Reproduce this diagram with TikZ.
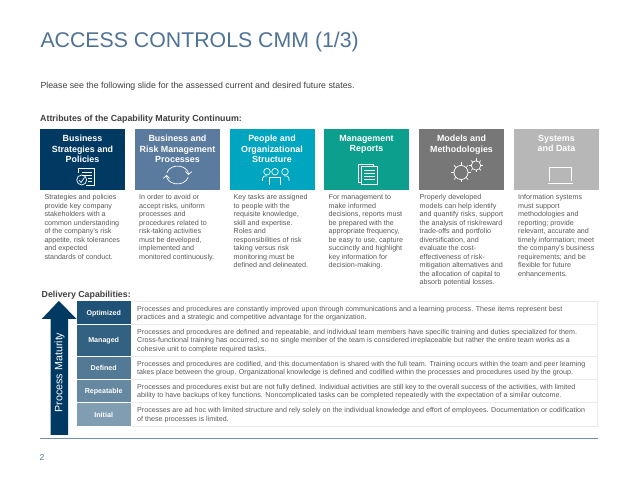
\documentclass[tikz,border=0pt]{standalone}
\usepackage{fontspec}
\usetikzlibrary{arrows.meta}
\usetikzlibrary{calc}
\setmainfont{Liberation Sans}
\definecolor{titleblue}{HTML}{4F7396}
\definecolor{bodygray}{HTML}{595959}
\definecolor{headgray}{HTML}{404040}
\definecolor{navy}{HTML}{003A63}
\definecolor{slate}{HTML}{5B7B9E}
\definecolor{cyanbox}{HTML}{00A5C0}
\definecolor{tealbox}{HTML}{0D9F8D}
\definecolor{darkbox}{HTML}{777777}
\definecolor{lightbox}{HTML}{B7B7B7}
\definecolor{rowline}{HTML}{EBEBEB}
\tikzset{
	headbox/.style={anchor=north,font=\fontsize{8.9}{10.6}\selectfont\bfseries,text=white,align=center,inner sep=0pt,execute at begin node=\rule{0pt}{8pt}},
	bodytext/.style={anchor=north west,font=\fontsize{7.15}{8.5}\selectfont,text=bodygray,align=left,inner sep=0pt},
	rowtext/.style={anchor=west,font=\fontsize{7.13}{8.5}\selectfont,text=bodygray,align=left,inner sep=0pt},
	leveltext/.style={font=\fontsize{7.1}{8.5}\selectfont\bfseries,text=white,inner sep=0pt},
	icon/.style={white,line width=0.7pt}
}
\begin{document}
\begin{tikzpicture}[x=1pt,y=-1pt]
	\useasboundingbox (0,0) rectangle (638,478);
	\fill[white] (0,0) rectangle (638,478);

	% heading
	\draw (40.3,47.6) node[anchor=base west,inner sep=0pt,font=\fontsize{21.3}{24}\selectfont,text=titleblue] (title) {ACCESS CONTROLS CMM (1/3)};
	\draw (40.3,86.3) node[anchor=west,inner sep=0pt,font=\fontsize{8.8}{10}\selectfont,text=headgray] (intro) {Please see the following slide for the assessed current and desired future states.};
	\draw (40,119.3) node[anchor=west,inner sep=0pt,font=\fontsize{8.83}{10}\selectfont\bfseries,text=headgray] (attributes) {Attributes of the Capability Maturity Continuum:};

	% coloured boxes
	\fill[navy] (40,129) rectangle (125,190);
	\fill[slate] (135,129) rectangle (220,190);
	\fill[cyanbox] (229.5,129) rectangle (314.5,190);
	\fill[tealbox] (324,129) rectangle (409,190);
	\fill[darkbox] (419,129) rectangle (504,190);
	\fill[lightbox] (514,129) rectangle (599,190);

	% labels boxes
	\draw (82.5,134.8) node[headbox] (strategies) {Business\\Strategies and\\Policies};
	\draw (177.5,134.8) node[headbox] (processes) {Business and\\Risk Management\\Processes};
	\draw (272,134.8) node[headbox] (people) {People and\\Organizational\\Structure};
	\draw (366.5,134.8) node[headbox] (reports) {Management\\Reports};
	\draw (461.5,134.8) node[headbox] (models) {Models and\\Methodologies};
	\draw (556.5,134.8) node[headbox] (systems) {Systems\\and Data};

	% icon policy sheet
	\draw[icon] (78.5,173) -- (78.5,168) -- (94.5,168) -- (94.5,185) -- (86,185);
	\draw[icon] (82,172) -- (92,172) (82,175) -- (92,175) (88,178) -- (92,178) (88,181) -- (92,181);
	\draw[icon] (81.7,180) circle (5);
	\draw[icon] (79,180) -- (81,182.5) -- (84.5,177.5);
	% icon cycle
	\draw[icon,-{Straight Barb[length=3pt,width=6.5pt]}] (166.9,172.7) arc (195:360:11 and 9);
	\draw[icon,-{Straight Barb[length=3pt,width=6.5pt]}] (188.1,177.3) arc (15:180:11 and 9);
	% icon people
	\draw[icon] (267,171.7) circle (3.3) (275,171.7) circle (3.3) (285,171.7) circle (3.3);
	\draw[icon] (269.3,185) -- (269.3,177) -- (280,177) -- (280,185);
	\draw[icon] (262.5,181) -- (262.5,178.5) .. controls (262.5,176) and (265,175.8) .. (267,175.8);
	\draw[icon] (284,175.8) .. controls (287,175.8) and (289,176) .. (289,178.5) -- (289,181);
	% icon reports
	\draw[icon] (361,182) -- (358.5,182) -- (358.5,164) -- (373,164) -- (373,166);
	\draw[icon] (361,166) -- (377.5,166) -- (377.5,184.5) -- (361,184.5) -- cycle;
	\draw[icon] (364,170) -- (375,170) (364,173) -- (375,173) (364,176) -- (375,176) (364,179) -- (375,179);
	% icon gears
	\draw[icon] (461,172.5) circle (7) (476,165.5) circle (4.7);
	\foreach \ang in {0,45,...,315}{
		\draw[icon] ($(461,172.5)+(\ang:7)$) -- ($(461,172.5)+(\ang:10)$);
		\draw[icon] ($(476,165.5)+(\ang:4.7)$) -- ($(476,165.5)+(\ang:7)$);
	}
	% icon laptop
	\draw[icon] (549.5,181) -- (549.5,167.5) -- (571.5,167.5) -- (571.5,181);
	\draw[icon] (548,183) -- (573,183);

	% descriptions
	\draw (44.3,194.5) node[bodytext] (strategiestext) {Strategies and policies\\provide key company\\stakeholders with a\\common understanding\\of the company's risk\\appetite, risk tolerances\\and expected\\standards of conduct.};
	\draw (139,194.5) node[bodytext] (processestext) {In order to avoid or\\accept risks, uniform\\processes and\\procedures related to\\risk-taking activities\\must be developed,\\implemented and\\monitored continuously.};
	\draw (233.5,194.5) node[bodytext] (peopletext) {Key tasks are assigned\\to people with the\\requisite knowledge,\\skill and expertise.\\Roles and\\responsibilities of risk\\taking versus risk\\monitoring must be\\defined and delineated.};
	\draw (328.5,194.5) node[bodytext] (reportstext) {For management to\\make informed\\decisions, reports must\\be prepared with the\\appropriate frequency,\\be easy to use, capture\\succinctly and highlight\\key information for\\decision-making.};
	\draw (419.5,194.5) node[bodytext] (modelstext) {Properly developed\\models can help identify\\and quantify risks, support\\the analysis of risk/reward\\trade-offs and portfolio\\diversification, and\\evaluate the cost-\\effectiveness of risk-\\mitigation alternatives and\\the allocation of capital to\\absorb potential losses.};
	\draw (518,194.5) node[bodytext] (systemstext) {Information systems\\must support\\methodologies and\\reporting; provide\\relevant, accurate and\\timely information; meet\\the company's business\\requirements; and be\\flexible for future\\enhancements.};

	% delivery capabilities
	\draw (41.5,295) node[anchor=west,inner sep=0pt,font=\fontsize{8.8}{10}\selectfont\bfseries,text=headgray] (delivery) {Delivery Capabilities:};

	% arrow
	\fill[navy] (58.8,301) -- (76.7,319) -- (68,319) -- (68,435) -- (50.7,435) -- (50.7,319) -- (41.7,319) -- cycle;
	\draw (59.5,372.5) node[rotate=90,inner sep=0pt,font=\fontsize{10.7}{12}\selectfont,text=white] (maturity) {Process Maturity};

	% levels
	\fill[navy!88!white] (77,301.5) rectangle (130.5,324.5);
	\fill[navy!80!white] (77,325) rectangle (130.5,356.5);
	\fill[navy!68!white] (77,357) rectangle (130.5,379.5);
	\fill[navy!60!white] (77,380) rectangle (130.5,402.5);
	\fill[navy!50!white] (77,403) rectangle (130.5,426);

	\draw (103.7,313.3) node[leveltext] (optimized) {Optimized};
	\draw (103.7,341) node[leveltext] (managed) {Managed};
	\draw (103.7,368.3) node[leveltext] (defined) {Defined};
	\draw (103.7,392) node[leveltext] (repeatable) {Repeatable};
	\draw (103.7,415) node[leveltext] (initial) {Initial};

	% table lines
	\draw[rowline,line width=0.6pt] (131,301.5) -- (597,301.5) -- (597,426) -- (131,426);
	\draw[rowline,line width=0.6pt] (131,324.7) -- (597,324.7);
	\draw[rowline,line width=0.6pt] (131,356.7) -- (597,356.7);
	\draw[rowline,line width=0.6pt] (131,379.7) -- (597,379.7);
	\draw[rowline,line width=0.6pt] (131,402.7) -- (597,402.7);

	% level descriptions
	\draw (137,313.5) node[rowtext] (optimizedtext) {Processes and procedures are constantly improved upon through communications and a learning process. These items represent best\\practices and a strategic and competitive advantage for the organization.};
	\draw (137,341) node[rowtext] (managedtext) {Processes and procedures are defined and repeatable, and individual team members have specific training and duties specialized for them.\\Cross-functional training has occurred, so no single member of the team is considered irreplaceable but rather the entire team works as a\\cohesive unit to complete required tasks.};
	\draw (137,368.5) node[rowtext] (definedtext) {Processes and procedures are codified, and this documentation is shared with the full team. Training occurs within the team and peer learning\\takes place between the group. Organizational knowledge is defined and codified within the processes and procedures used by the group.};
	\draw (137,391.7) node[rowtext] (repeatabletext) {Processes and procedures exist but are not fully defined. Individual activities are still key to the overall success of the activities, with limited\\ability to have backups of key functions. Noncomplicated tasks can be completed repeatedly with the expectation of a similar outcome.};
	\draw (137,415.2) node[rowtext] (initialtext) {Processes are ad hoc with limited structure and rely solely on the individual knowledge and effort of employees. Documentation or codification\\of these processes is limited.};

	% footer
	\draw[titleblue!80!white,line width=0.7pt] (40,438.3) -- (598,438.3);
	\draw (39.5,458) node[anchor=west,inner sep=0pt,font=\fontsize{8.5}{10}\selectfont,text=titleblue] (pagenum) {2};
\end{tikzpicture}
\end{document}
